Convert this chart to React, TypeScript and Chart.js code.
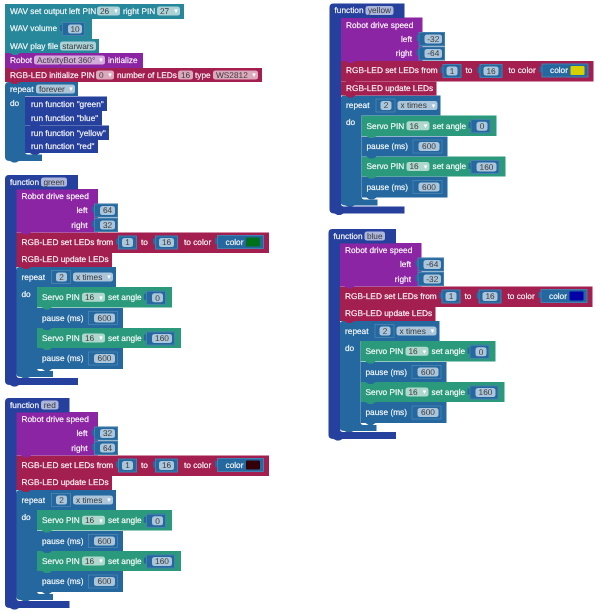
import React, { useEffect, useRef } from "react";
import { Chart, registerables } from "chart.js";

Chart.register(...registerables);

// ---- values
const functionNames = ["green", "red", "yellow", "blue"];
const leftSpeeds = ["64", "32", "-32", "-64"];
const rightSpeeds = ["32", "64", "-64", "-32"];
const swatchColors = ["#00701a", "#33000a", "#d8cf00", "#0000a8"];
const ledFrom = "1";
const ledTo = "16";
const repeatCount = "2";
const servoPin = "16";
const servoAngles = ["0", "160"];
const pauseMs = "600";
const callOrder = ["green", "blue", "yellow", "red"];

// ---- layout tables (not data)
const origins = [[5, 175], [5, 398], [329.5, 3.5], [328.5, 229]];
const hatChipEnds = [62, 53.5, 64, 56.5];
const TEAL = "#26889a";
const PURPLE = "#8c25a3";
const CRIMSON = "#a31f4f";
const BLUE = "#24689f";
const NAVY = "#26409e";
const GREEN = "#2b9a7c";
const FONT = '8.3px "Liberation Sans"';

type Pt = Record<string, any>;
const blocks: Pt[] = [];
const sockets: Pt[] = [];
const chips: Pt[] = [];
const labels: Pt[] = [];

const block = (x0: number, y0: number, x1: number, y1: number, color: string, bump = true) =>
  blocks.push({ x: x0, y: y0, x1, y1, color, bump });
const cShape = (x0: number, y0: number, x1: number, yh: number, xs: number, yc: number, xc: number, y1: number, color: string) =>
  blocks.push({ x: x0, y: y0, x1, y1, yh, xs, yc, xc, color, c: true });
const text = (x: number, yc: number, t: string, align = "left") => labels.push({ x, y: yc, t, align, color: "#fff" });
const socket = (x0: number, x1: number, yc: number, h = 14, color = BLUE) => sockets.push({ x: x0, y: yc - h / 2, x1, y1: yc + h / 2, color });
const chip = (x0: number, x1: number, yc: number, t: string) => {
  chips.push({ x: x0, y: yc - 4.6, x1, y1: yc + 4.6 });
  labels.push({ x: (x0 + x1) / 2, y: yc, t, align: "center", color: "#3a3a3a" });
};
const drop = (x0: number, x1: number, yc: number, t: string) => {
  chips.push({ x: x0, y: yc - 4.6, x1, y1: yc + 4.6 });
  labels.push({ x: x0 + 3, y: yc, t, align: "left", color: "#3a3a3a" });
  labels.push({ x: x1 - 4, y: yc, t: "▾", align: "center", color: "#fff", small: true });
};
const value = (x0: number, x1: number, i0: number, i1: number, yc: number, t: string) => {
  socket(x0, x1, yc);
  chip(i0, i1, yc, t);
};

function buildMain() {
  block(5, 4, 184, 19, TEAL);
  text(10, 11, "WAV set output left PIN");
  drop(97, 120, 11, "26");
  text(123, 11, "right PIN");
  drop(157, 180, 11, "27");
  block(5, 19, 92, 39, TEAL);
  text(10, 28, "WAV volume");
  value(62, 85, 68, 82, 29, "10");
  block(5, 39, 99, 53, TEAL);
  text(10, 46, "WAV play file");
  chip(60, 96, 46, "starwars");
  block(5, 53, 143, 68, PURPLE);
  text(10, 60, "Robot");
  drop(34, 105, 60, "ActivityBot 360°");
  text(108, 60, "initialize");
  block(5, 68, 262, 82, CRIMSON);
  text(10, 75, "RGB-LED initialize PIN");
  drop(96, 114, 75, "0");
  text(117, 75, "number of LEDs");
  chip(178, 193, 75, "16");
  text(195, 75, "type");
  drop(213, 258, 75, "WS2812");
  cShape(5, 82, 78, 96, 25, 154.5, 42, 161, BLUE);
  text(10, 89, "repeat");
  drop(36, 75, 89, "forever");
  text(10, 103, "do");
  const runEnds = [107, 102, 109, 98];
  const runY = [96.5, 111, 125.5, 140, 153];
  callOrder.forEach((n, i) => {
    block(25, runY[i], runEnds[i], runY[i + 1], NAVY);
    text(31, (runY[i] + runY[i + 1]) / 2, `run function "${n}"`);
  });
}

function buildFunction(i: number) {
  const [ox, oy] = origins[i];
  const X = (v: number) => ox + v;
  const Y = (v: number) => oy + v;
  const hatEnd = hatChipEnds[i] + 11;
  cShape(X(0), Y(0), X(hatEnd), Y(14.5), X(11.5), Y(203), X(hatEnd), Y(210), NAVY);
  text(X(5), Y(7), "function");
  chip(X(36), X(hatChipEnds[i]), Y(7), functionNames[i]);

  block(X(11), Y(14), X(93), Y(57.5), PURPLE);
  text(X(16.5), Y(21.5), "Robot drive speed");
  const w = (s: string) => (s.length > 2 ? 17.5 : 15);
  text(X(82.5), Y(35.5), "left", "right");
  value(X(89), X(95 + w(leftSpeeds[i]) + 3), X(95), X(95 + w(leftSpeeds[i])), Y(35.5), leftSpeeds[i]);
  text(X(82.5), Y(50), "right", "right");
  value(X(89), X(95 + w(rightSpeeds[i]) + 3), X(95), X(95 + w(rightSpeeds[i])), Y(50), rightSpeeds[i]);

  block(X(11), Y(57.5), X(264), Y(78), CRIMSON);
  text(X(16.5), Y(67), "RGB-LED set LEDs from");
  value(X(113), X(132), X(117), X(128), Y(67.5), ledFrom);
  text(X(136), Y(67), "to");
  value(X(150), X(173), X(154), X(169), Y(67.5), ledTo);
  text(X(179), Y(67), "to color");
  socket(X(212), X(259), Y(67));
  text(X(220.5), Y(67), "color");
  chips.push({ x: X(241), y: Y(62.5), x1: X(255), y1: Y(71.5), solid: swatchColors[i] });

  block(X(11), Y(78), X(107), Y(92), CRIMSON);
  text(X(16.5), Y(84.5), "RGB-LED update LEDs");

  cShape(X(11), Y(92), X(111), Y(112), X(32), Y(196), X(48), Y(202), BLUE);
  text(X(16.5), Y(102), "repeat");
  value(X(46), X(66), X(51), X(62), Y(102), repeatCount);
  drop(X(68), X(108), Y(102), "x times");
  text(X(16.5), Y(119), "do");

  const rows = [[112, 132.5], [133, 153], [153, 173], [173, 194]];
  [0, 1].forEach((k) => {
    const [a, b] = rows[k * 2];
    const right = servoAngles[k].length > 1 ? 176 : 167;
    block(X(32), Y(a), X(right), Y(b), GREEN);
    text(X(37), Y((a + b) / 2), "Servo PIN");
    drop(X(77), X(100), Y((a + b) / 2), servoPin);
    text(X(103), Y((a + b) / 2), "set angle");
    const iw = servoAngles[k].length > 1 ? 20 : 11;
    value(X(141), X(147 + iw + 3), X(147), X(147 + iw), Y((a + b) / 2 + 0.5), servoAngles[k]);
    const [c, d] = rows[k * 2 + 1];
    block(X(32), Y(c), X(118), Y(d), BLUE);
    text(X(37), Y((c + d) / 2), "pause (ms)");
    value(X(83), X(113), X(89), X(110), Y((c + d) / 2), pauseMs);
  });
}

buildMain();
functionNames.forEach((_, i) => buildFunction(i));

const painter = {
  id: "blockPainter",
  afterDatasetsDraw(chart: any) {
    const { ctx, scales } = chart;
    const sx = (v: number) => scales.x.getPixelForValue(v);
    const sy = (v: number) => scales.y.getPixelForValue(v);
    const ds = (name: string) => chart.data.datasets.find((d: any) => d.label === name).data;
    ctx.save();
    // statement blocks: bottom-up so that each block's tab lies over the next one
    [...ds("blocks")].reverse().forEach((b: any) => {
      const x0 = sx(b.x), y0 = sy(b.y), x1 = sx(b.x1), y1 = sy(b.y1);
      ctx.fillStyle = b.color;
      ctx.beginPath();
      if (b.c) {
        const yh = sy(b.yh), xs = sx(b.xs), yc = sy(b.yc), xc = sx(b.xc);
        ctx.moveTo(x0 + 4, y0);
        ctx.lineTo(x1, y0);
        ctx.lineTo(x1, yh);
        ctx.lineTo(xs, yh);
        ctx.lineTo(xs, yc - 3);
        ctx.quadraticCurveTo(xs, yc, xs + 3, yc);
        ctx.lineTo(xc, yc);
        ctx.lineTo(xc, y1);
        ctx.lineTo(x0 + 14, y1);
        ctx.lineTo(x0 + 11, y1 + 1.5);
        ctx.lineTo(x0 + 8, y1 + 1.5);
        ctx.lineTo(x0 + 5, y1);
        ctx.quadraticCurveTo(x0, y1, x0, y1 - 4);
        ctx.lineTo(x0, y0 + 4);
        ctx.quadraticCurveTo(x0, y0, x0 + 4, y0);
      } else {
        ctx.moveTo(x0, y0);
        ctx.lineTo(x1, y0);
        ctx.lineTo(x1, y1);
        ctx.lineTo(x0 + 15, y1);
        ctx.lineTo(x0 + 12, y1 + 2);
        ctx.lineTo(x0 + 8, y1 + 2);
        ctx.lineTo(x0 + 5, y1);
        ctx.lineTo(x0, y1);
      }
      ctx.closePath();
      ctx.fill();
    });
    ds("sockets").forEach((b: any) => {
      const x0 = sx(b.x), y0 = sy(b.y), x1 = sx(b.x1), y1 = sy(b.y1);
      ctx.fillStyle = b.color;
      ctx.fillRect(x0, y0, x1 - x0, y1 - y0);
      ctx.fillRect(x0 - 2, y0 + 3, 3, 6);
      ctx.strokeStyle = "rgba(255,255,255,0.22)";
      ctx.lineWidth = 0.7;
      ctx.strokeRect(x0 + 0.5, y0 + 0.5, x1 - x0 - 1, y1 - y0 - 1);
    });
    ds("chips").forEach((b: any) => {
      const x0 = sx(b.x), y0 = sy(b.y), x1 = sx(b.x1), y1 = sy(b.y1);
      ctx.fillStyle = b.solid || "rgba(255,255,255,0.62)";
      ctx.beginPath();
      ctx.roundRect(x0, y0, x1 - x0, y1 - y0, b.solid ? 1 : 2.5);
      ctx.fill();
    });
    ctx.textBaseline = "middle";
    ctx.textRendering = "geometricPrecision";
    ctx.fontKerning = "normal";
    ds("labels").forEach((l: any) => {
      ctx.font = l.small ? '7px "DejaVu Sans"' : FONT;
      ctx.fillStyle = l.color;
      ctx.textAlign = l.align;
      ctx.fillText(l.t, sx(l.x), sy(l.y) + 0.5);
      if (!l.small && l.color === "#fff") {
        ctx.strokeStyle = "rgba(255,255,255,0.45)";
        ctx.lineWidth = 0.25;
        ctx.strokeText(l.t, sx(l.x), sy(l.y) + 0.5);
      }
    });
    ctx.restore();
  },
};

export default function App() {
  const ref = useRef<HTMLCanvasElement>(null);
  useEffect(() => {
    const mk = (label: string, data: Pt[]) => ({ label, data, pointRadius: 0, showLine: false });
    const chart = new Chart(ref.current!, {
      type: "scatter",
      data: { datasets: [mk("blocks", blocks), mk("sockets", sockets), mk("chips", chips), mk("labels", labels)] },
      options: {
        responsive: false,
        animation: false,
        devicePixelRatio: 1,
        layout: { padding: 0 },
        plugins: { legend: { display: false }, title: { display: false }, tooltip: { enabled: false } },
        scales: {
          x: { type: "linear", display: false, min: 0, max: 600 },
          y: { type: "linear", display: false, min: 0, max: 614, reverse: true },
        },
      },
      plugins: [painter],
    } as any);
    return () => chart.destroy();
  }, []);
  return (
    <canvas
      ref={ref}
      width={600}
      height={614}
      style={{ position: "absolute", left: 0, top: 0, width: 600, height: 614, background: "#fff", filter: "blur(0.3px)" }}
    />
  );
}
